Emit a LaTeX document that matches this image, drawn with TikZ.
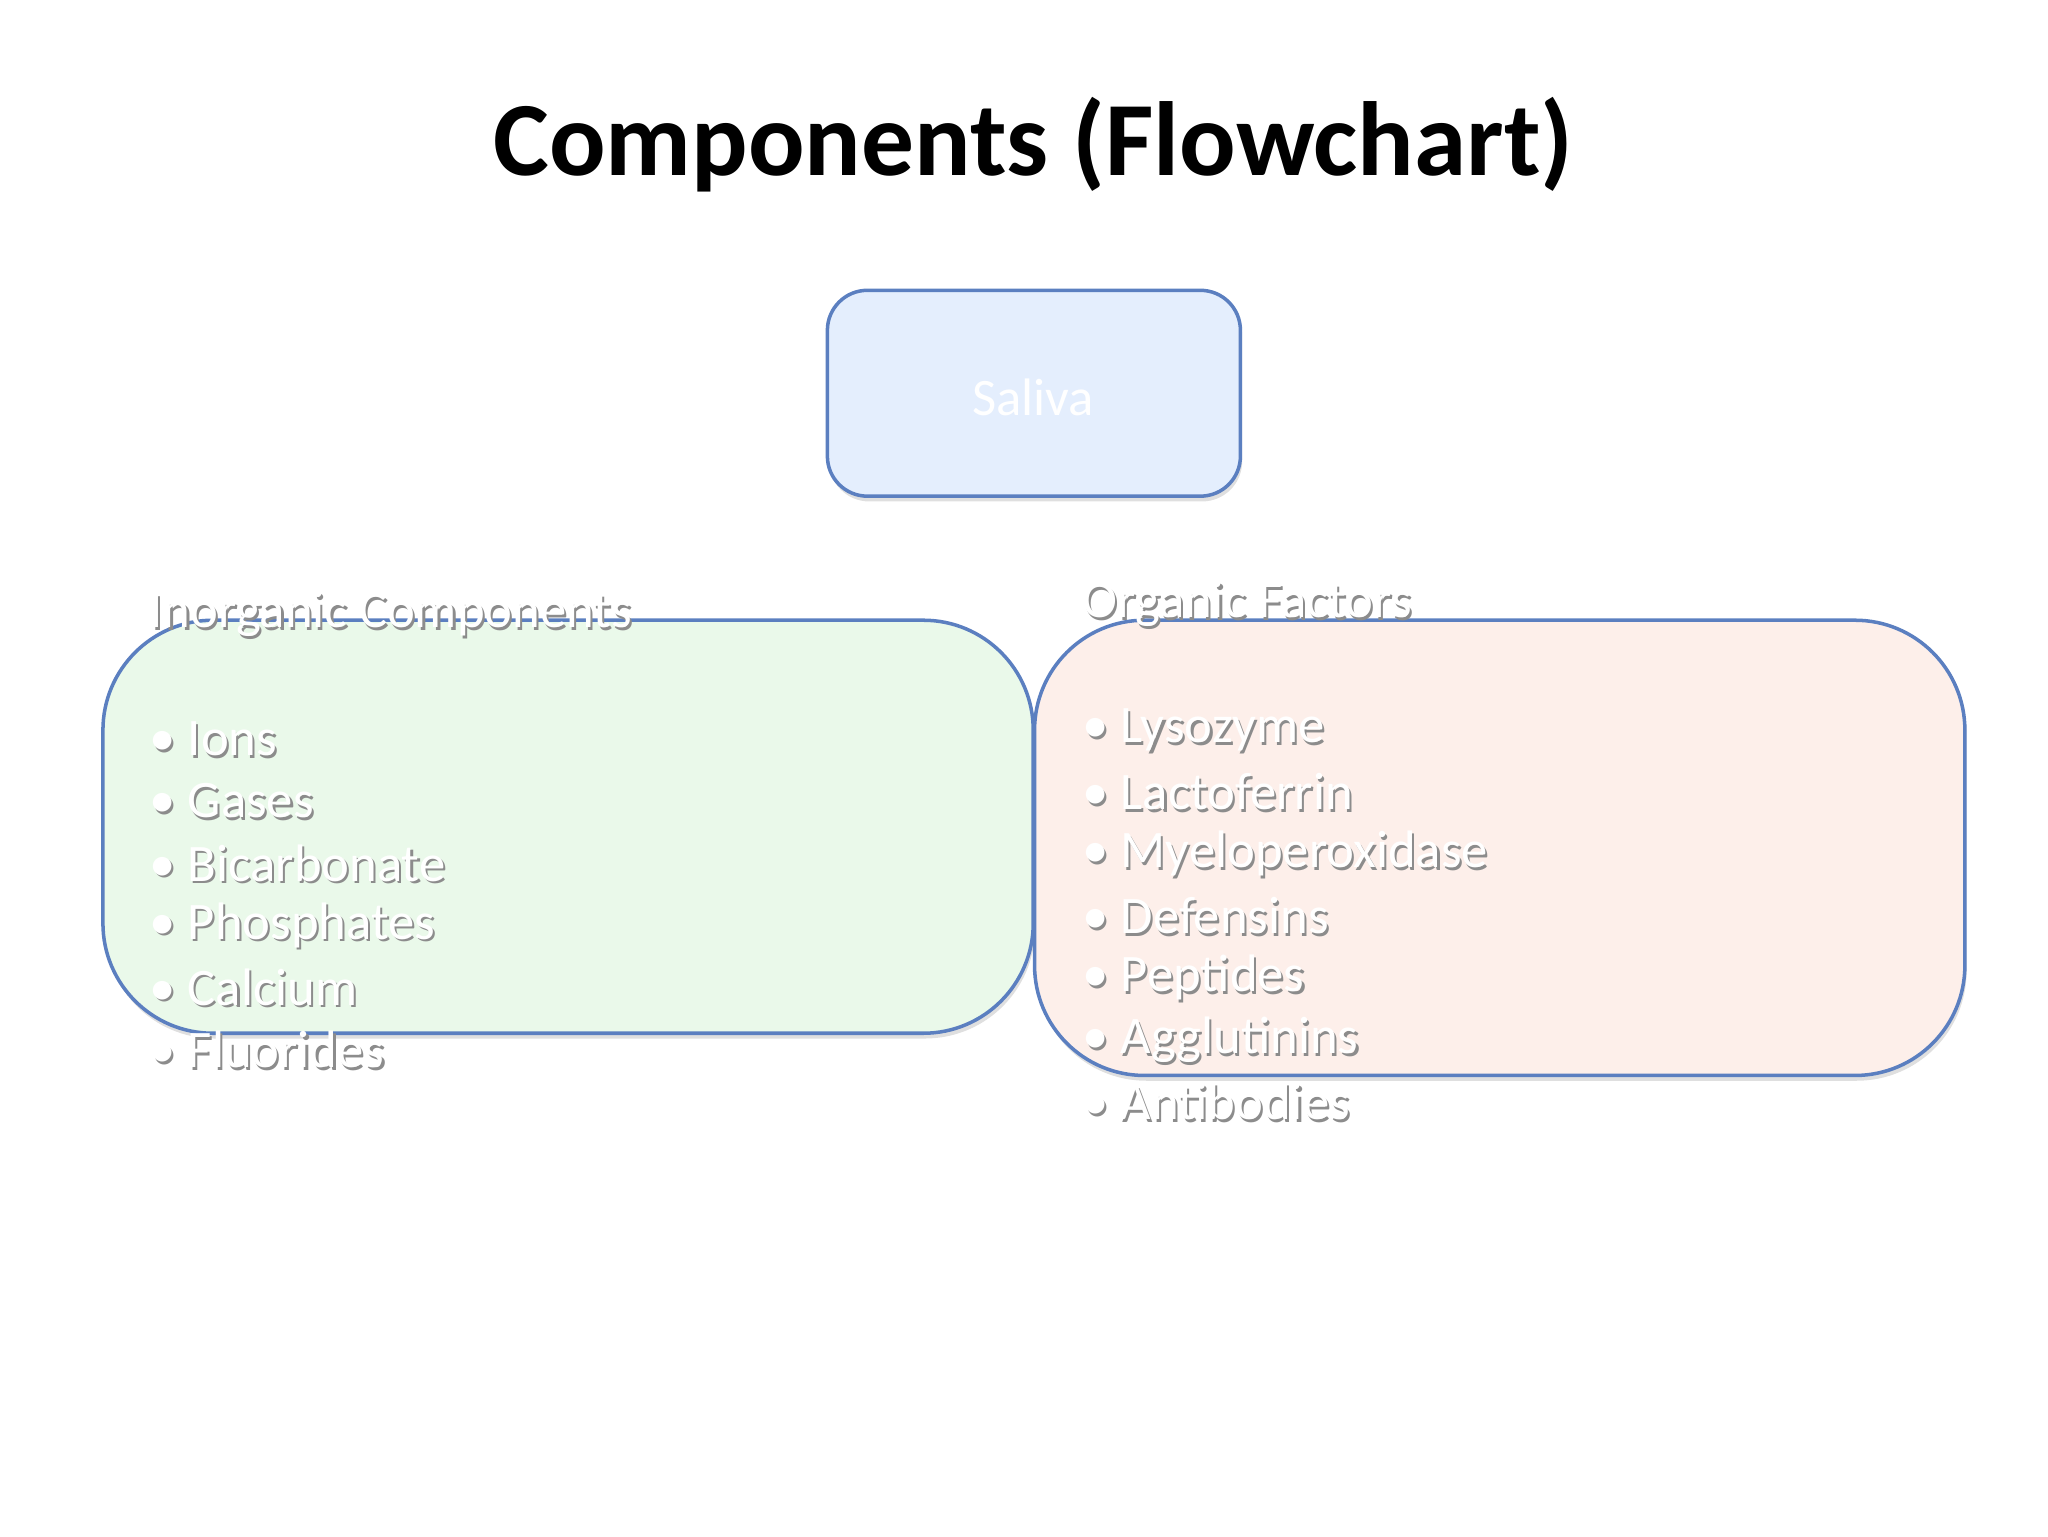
\documentclass[tikz,border=0pt]{standalone}
\usepackage{fontspec}
\setmainfont{Carlito}
\usetikzlibrary{shadows}

\definecolor{edgeBlue}{HTML}{5B7FC0}
\definecolor{salivaFill}{HTML}{E4EEFD}
\definecolor{inorgFill}{HTML}{EAF9EA}
\definecolor{orgFill}{HTML}{FDEFEA}

\tikzset{
  groupbox/.style={draw=edgeBlue, line width=1pt, rounded corners=1.1cm, drop shadow={opacity=0.25,shadow xshift=0.5pt,shadow yshift=-1.5pt}},
  listtext/.style={text=white, anchor=west, align=left, font=\fontsize{15}{15}\selectfont},
  shadowtext/.style={listtext, text=black!45, xshift=0.6pt, yshift=-0.8pt}
}

\begin{document}
\begin{tikzpicture}[x=0.0132cm, y=-0.0132cm]
    \useasboundingbox (0,0) rectangle (1552,1164);

    \node (title) at (783,110) {\fontsize{30}{36}\selectfont\bfseries Components (Flowchart)};

    \draw[groupbox, fill=salivaFill, rounded corners=0.4cm] (627,220) rectangle (940,376);
    \node[text=white, font=\fontsize{15}{15}\selectfont] (saliva) at (783,301) {Saliva};

    \draw[groupbox, fill=inorgFill] (78,470) rectangle (783,783);
    \draw[groupbox, fill=orgFill] (784,470) rectangle (1489,815);

    % headings and lists, grey copy behind the white text
    \node[shadowtext] at (104,465) {Inorganic Components};
    \node[listtext] (inorg) at (104,465) {Inorganic Components};
    \foreach \i/\t in {0/Ions,1/Gases,2/Bicarbonate,3/Phosphates,4/Calcium,5/Fluorides} {
      \node[shadowtext] at (104,560+47*\i) {\textbullet\ \t};
      \node[listtext] (inorg\i) at (104,560+47*\i) {\textbullet\ \t};
    }

    \node[shadowtext] at (811,458) {Organic Factors};
    \node[listtext] (org) at (811,458) {Organic Factors};
    \foreach \i/\t in {0/Lysozyme,1/Lactoferrin,2/Myeloperoxidase,3/Defensins,4/Peptides,5/Agglutinins,6/Antibodies} {
      \node[shadowtext] at (811,553+47*\i) {\textbullet\ \t};
      \node[listtext] (org\i) at (811,553+47*\i) {\textbullet\ \t};
    }
\end{tikzpicture}
\end{document}
